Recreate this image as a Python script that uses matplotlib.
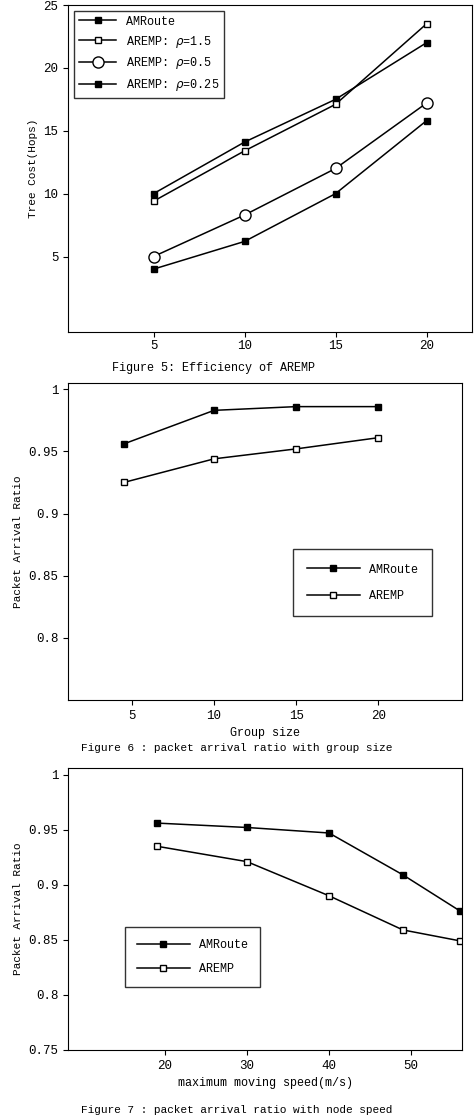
import matplotlib
matplotlib.use("Agg")
import matplotlib.pyplot as plt

plt.rcParams['font.family'] = ['Liberation Mono', 'DejaVu Sans']
plt.rcParams['font.size'] = 9

# Figure 5
f5_x = [5, 10, 15, 20]
f5_amroute = [10, 14.1, 17.5, 22]
f5_r15 = [9.4, 13.4, 17.1, 23.5]
f5_r05 = [5, 8.3, 12, 17.2]
f5_r025 = [4, 6.2, 10, 15.8]

# Figure 6
f6_x = [4.5, 10, 15, 20]
f6_amroute = [0.956, 0.983, 0.986, 0.986]
f6_aremp = [0.925, 0.944, 0.952, 0.961]

# Figure 7
f7_x = [19, 30, 40, 49, 56]
f7_amroute = [0.956, 0.952, 0.947, 0.909, 0.876]
f7_aremp = [0.935, 0.921, 0.890, 0.859, 0.849]

W, H = 474, 1118
fig = plt.figure(figsize=(W/100, H/100), dpi=100)

def ax_at(l, t, r, b):
    return fig.add_axes([l/W, 1-b/H, (r-l)/W, (b-t)/H])

k = dict(color='black', lw=1.1)

a1 = ax_at(68, 5, 472, 332)
a1.plot(f5_x, f5_amroute, marker='s', ms=5, mfc='black', label='AMRoute', **k)
a1.plot(f5_x, f5_r15, marker='s', ms=5, mfc='white', label='AREMP: $\\rho$=1.5', **k)
a1.plot(f5_x, f5_r05, marker='o', ms=8, mfc='white', label='AREMP: $\\rho$=0.5', **k)
a1.plot(f5_x, f5_r025, marker='s', ms=4, mfc='black', label='AREMP: $\\rho$=0.25', **k)
a1.set_xlim(0.3, 22.5); a1.set_ylim(-1.0, 25)
a1.set_xticks([5, 10, 15, 20]); a1.set_yticks([5, 10, 15, 20, 25])
a1.tick_params(axis='x', pad=2)
a1.set_ylabel('Tree Cost(Hops)', fontsize=8)
a1.legend(loc='upper left', frameon=True, edgecolor='black', fancybox=False, fontsize=8.5,
          handlelength=3.2)
fig.text(0.45, 1-368/H, 'Figure 5: Efficiency of AREMP', ha='center', va='center', fontsize=8.5)

a2 = ax_at(68, 383, 462, 700)
a2.plot(f6_x, f6_amroute, marker='s', ms=4, mfc='black', label='AMRoute', **k)
a2.plot(f6_x, f6_aremp, marker='s', ms=4, mfc='white', label='AREMP', **k)
a2.set_xlim(1.1, 25.1); a2.set_ylim(0.75, 1.005)
a2.set_xticks([5, 10, 15, 20]); a2.set_yticks([0.8, 0.85, 0.9, 0.95, 1])
a2.set_yticklabels(['0.8', '0.85', '0.9', '0.95', '1'])
a2.set_ylabel('Packet Arrival Ratio', fontsize=8)
a2.set_xlabel('Group size', fontsize=8.5)
a2.legend(loc='center left', bbox_to_anchor=(0.555, 0.37), frameon=True, edgecolor='black',
          fancybox=False, fontsize=8.5, borderpad=1.2, labelspacing=1.2, handlelength=4.5)
fig.text(0.5, 1-748/H, 'Figure 6 : packet arrival ratio with group size', ha='center', va='center', fontsize=8)

a3 = ax_at(68, 768, 462, 1050)
a3.plot(f7_x, f7_amroute, marker='s', ms=4, mfc='black', label='AMRoute', **k)
a3.plot(f7_x, f7_aremp, marker='s', ms=4, mfc='white', label='AREMP', **k)
a3.set_xlim(8.2, 56.2); a3.set_ylim(0.75, 1.006)
a3.set_xticks([20, 30, 40, 50]); a3.set_yticks([0.75, 0.8, 0.85, 0.9, 0.95, 1])
a3.set_yticklabels(['0.75', '0.8', '0.85', '0.9', '0.95', '1'])
a3.set_ylabel('Packet Arrival Ratio', fontsize=8)
a3.set_xlabel('maximum moving speed(m/s)', fontsize=8.5)
a3.legend(loc='center left', bbox_to_anchor=(0.13, 0.33), frameon=True, edgecolor='black',
          fancybox=False, fontsize=8.5, borderpad=1.0, labelspacing=1.0, handlelength=4.5)
fig.text(0.5, 1-1110/H, 'Figure 7 : packet arrival ratio with node speed', ha='center', va='center', fontsize=8)

fig.savefig('out.png', dpi=100)
